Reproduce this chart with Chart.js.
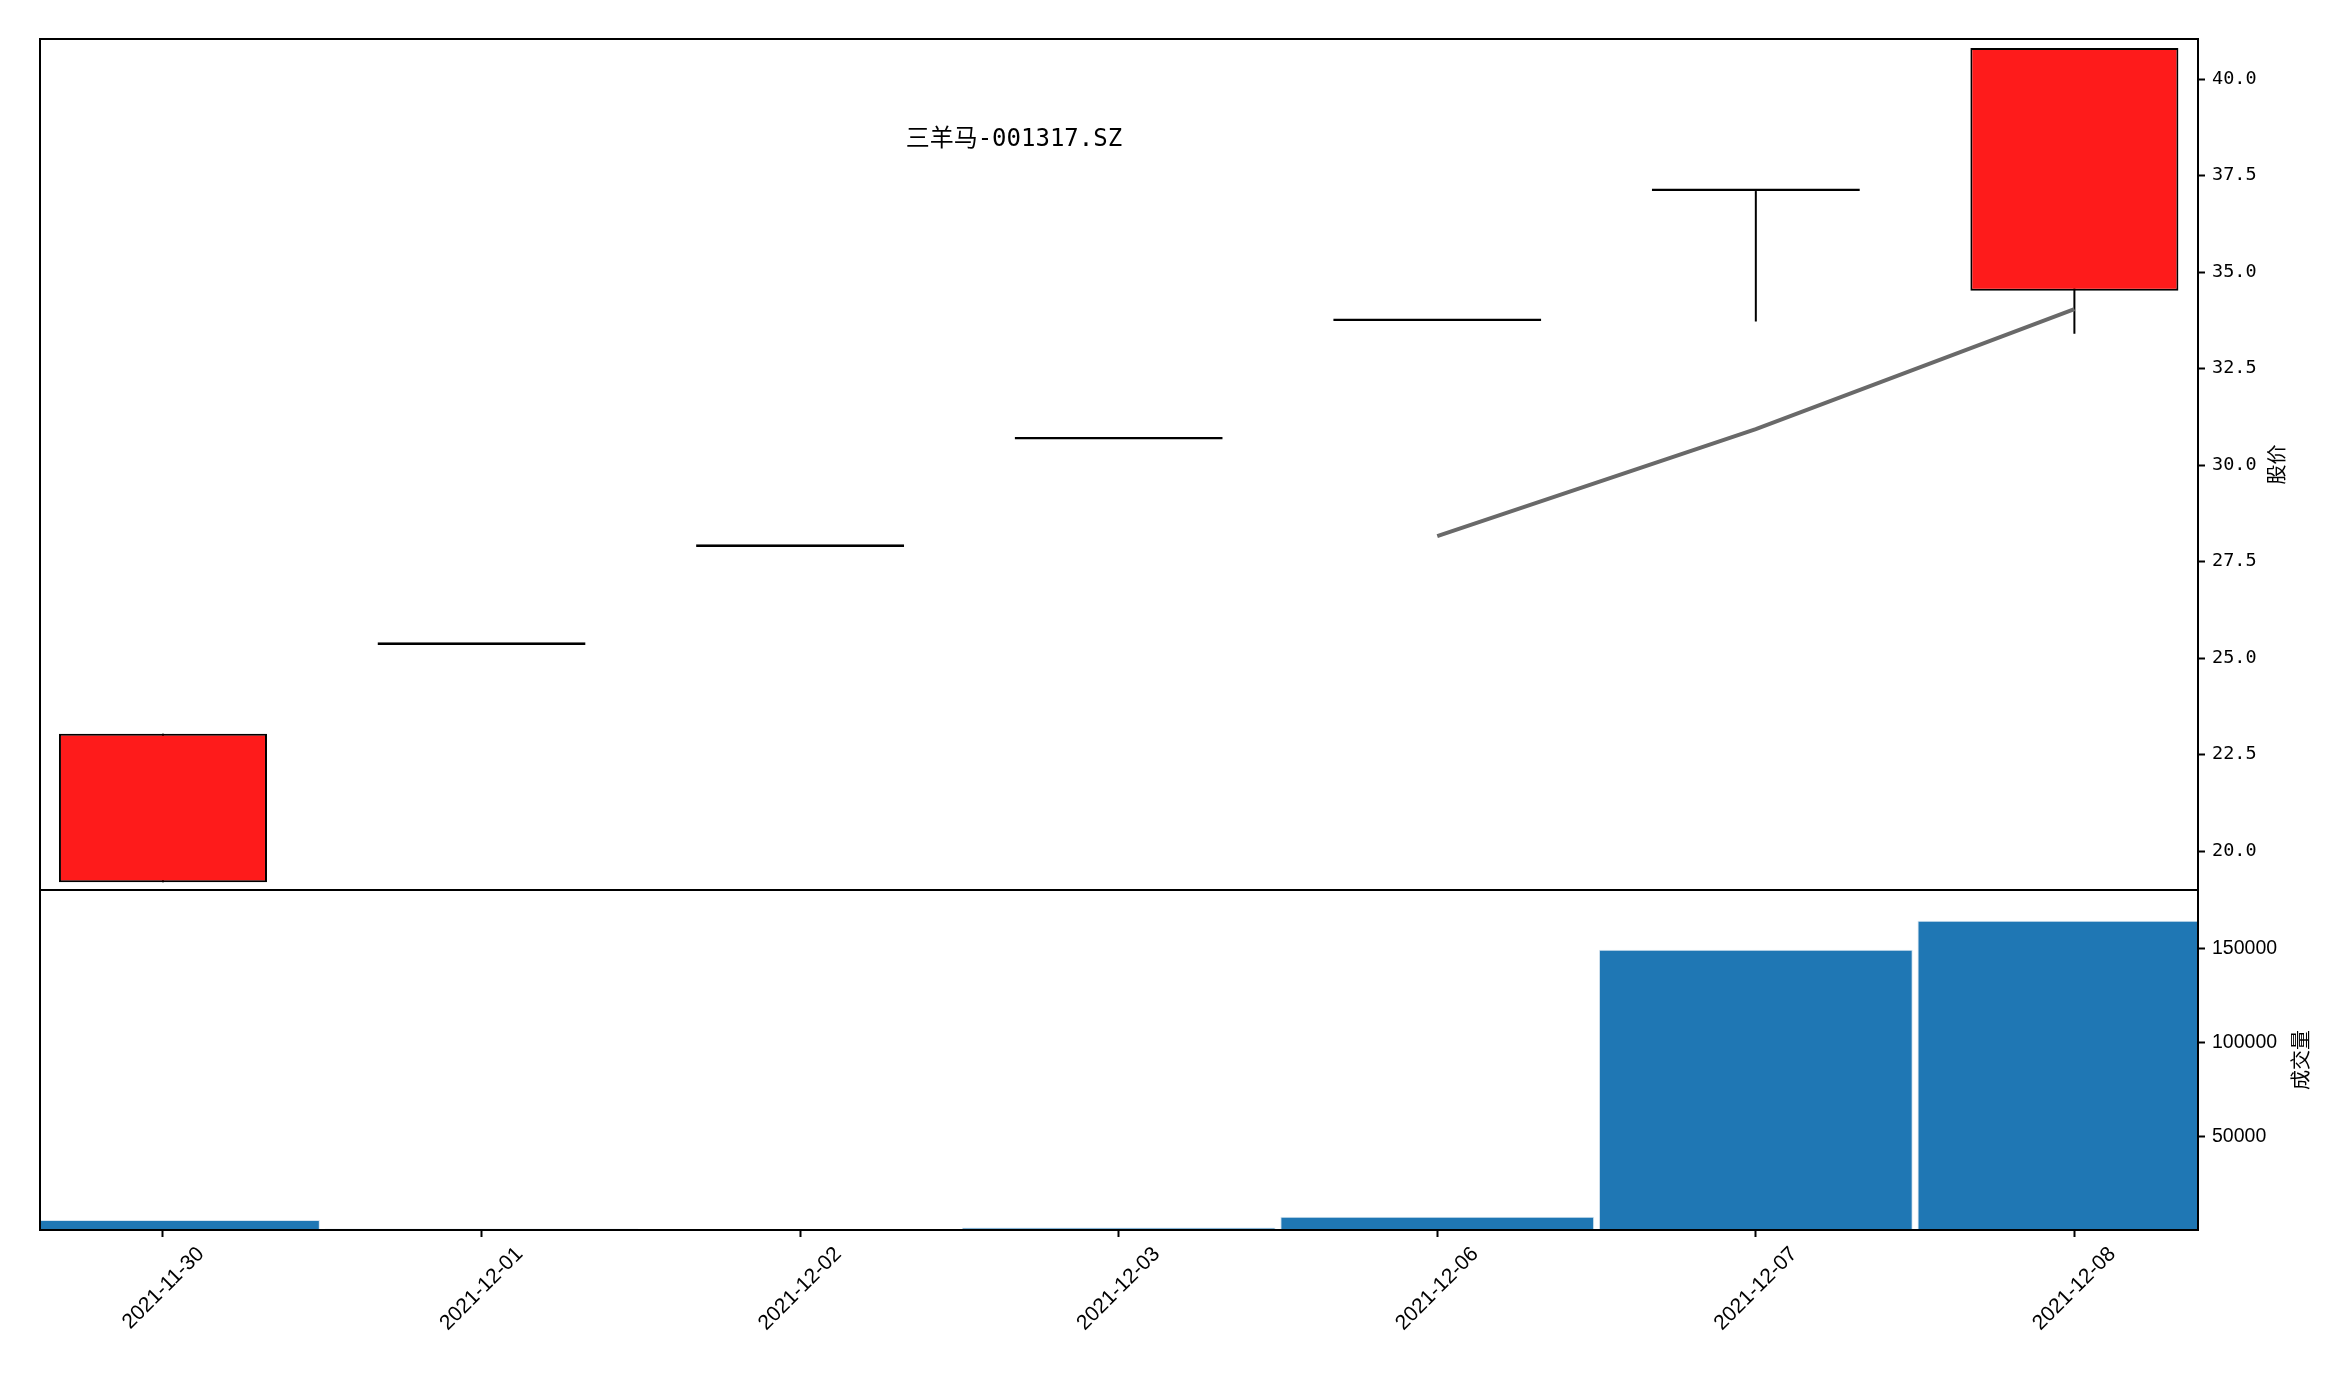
<!DOCTYPE html>
<html>
<head>
<meta charset="utf-8">
<script src="https://cdn.jsdelivr.net/npm/chart.js@4.4.1/dist/chart.umd.min.js"></script>
<style>
  html, body { margin: 0; padding: 0; background: #fff; }
  #wrap { width: 2347px; height: 1377px; }
</style>
</head>
<body>
<div id="wrap"><canvas id="kline"></canvas></div>
<script>
// Data
const dates = ['2021-11-30', '2021-12-01', '2021-12-02', '2021-12-03', '2021-12-06', '2021-12-07', '2021-12-08'];
const opens = [19.19, 25.34, 27.88, 30.66, 33.73, 37.10, 34.52];
const closes = [23.04, 25.34, 27.88, 30.66, 33.73, 37.10, 40.81];
const highs = [23.04, 25.34, 27.88, 30.66, 33.73, 37.10, 40.81];
const lows = [19.19, 25.34, 27.88, 30.66, 33.73, 33.72, 33.40];
const ma5 = [null, null, null, null, 28.16, 30.93, 34.04];
const volumes = [5600, 1100, 250, 1600, 7400, 149600, 165100];
const priceTicks = [20.0, 22.5, 25.0, 27.5, 30.0, 32.5, 35.0, 37.5, 40.0];
const volumeTicks = [50000, 100000, 150000];
const title = '三羊马-001317.SZ';
const priceLabel = '股价';
const volumeLabel = '成交量';

const upColor = '#fe1b1b';
const volColor = '#1f77b4';

// draws panel frames, title and the right-side axis labels
const framePlugin = {
    id: 'frames',
    afterDraw(chart) {
        const ctx = chart.ctx;
        const area = chart.chartArea;
        const sy = chart.scales.y;
        const sv = chart.scales.yv;
        ctx.save();
        ctx.strokeStyle = '#000';
        ctx.lineWidth = 2;
        [sy, sv].forEach(s => {
            ctx.strokeRect(area.left, s.top, area.right - area.left, s.bottom - s.top);
        });

        ctx.fillStyle = '#000';
        ctx.font = '24px "DejaVu Sans Mono", "Noto Sans CJK SC", monospace';
        ctx.textAlign = 'center';
        ctx.textBaseline = 'middle';
        ctx.fillText(title, area.left + (area.right - area.left) * 0.4513, area.top + 101);

        ctx.font = '20px "Noto Sans CJK SC", sans-serif';
        ctx.save();
        ctx.translate(sy.left + 78, (sy.top + sy.bottom) / 2);
        ctx.rotate(-Math.PI / 2);
        ctx.fillText(priceLabel, 0, 0);
        ctx.restore();
        ctx.save();
        ctx.translate(sv.left + 102, (sv.top + sv.bottom) / 2);
        ctx.rotate(-Math.PI / 2);
        ctx.fillText(volumeLabel, 0, 0);
        ctx.restore();
        ctx.restore();
    }
};

const data = {
    datasets: [
        {
            type: 'line',
            label: 'MA5',
            data: dates.map((d, i) => ({ x: i, y: ma5[i] })),
            yAxisID: 'y',
            borderColor: '#696969',
            borderWidth: 4,
            pointRadius: 0,
            tension: 0,
            order: 0
        },
        {
            label: 'body',
            data: dates.map((d, i) => ({ x: i, y: [opens[i], closes[i]] })),
            yAxisID: 'y',
            backgroundColor: dates.map((d, i) => opens[i] === closes[i] ? '#000' : upColor),
            borderColor: '#000',
            borderWidth: 2,
            borderSkipped: false,
            inflateAmount: 0,
            minBarLength: 2.6,
            grouped: false,
            categoryPercentage: 1,
            barPercentage: 0.653,
            order: 1
        },
        {
            label: 'wick',
            data: dates.map((d, i) => ({ x: i, y: [lows[i], highs[i]] })),
            yAxisID: 'y',
            backgroundColor: '#000',
            borderWidth: 0,
            inflateAmount: 0,
            grouped: false,
            barThickness: 2,
            order: 2
        },
        {
            label: 'volume',
            data: dates.map((d, i) => ({ x: i, y: volumes[i] })),
            yAxisID: 'yv',
            backgroundColor: volColor,
            borderColor: '#d6e4ef',
            borderWidth: 1,
            borderSkipped: 'bottom',
            grouped: false,
            categoryPercentage: 1,
            barPercentage: 0.985,
            order: 3
        }
    ]
};

const volFont = { family: '"Liberation Sans", Arial, sans-serif', size: 19.5 };
const dateFont = { family: '"Liberation Sans", Arial, sans-serif', size: 21 };

const config = {
    type: 'bar',
    data: data,
    options: {
        responsive: true,
        maintainAspectRatio: false,
        devicePixelRatio: 1,
        animation: false,
        events: [],
        layout: { padding: { top: 39, left: 40, right: 0, bottom: 0 } },
        plugins: {
            legend: { display: false },
            tooltip: { enabled: false }
        },
        scales: {
            x: {
                type: 'linear',
                position: 'bottom',
                min: -0.386,
                max: 6.388,
                offset: false,
                afterBuildTicks: (s) => { s.ticks = dates.map((d, i) => ({ value: i })); },
                afterFit: (s) => { s.height = 147; },
                border: { display: false },
                grid: { offset: false, drawOnChartArea: false, drawTicks: true, tickLength: 7, tickColor: '#000', tickWidth: 2 },
                ticks: {
                    autoSkip: false,
                    minRotation: 45,
                    maxRotation: 45,
                    padding: 5,
                    labelOffset: 38,
                    color: '#000',
                    font: dateFont,
                    callback: (v) => dates[v]
                }
            },
            y: {
                type: 'linear',
                position: 'right',
                stack: 'panels',
                stackWeight: 851,
                min: 18.99,
                max: 41.04,
                afterBuildTicks: (s) => { s.ticks = priceTicks.map(v => ({ value: v })); },
                afterFit: (s) => { s.width = 149; },
                border: { display: false },
                grid: { drawOnChartArea: false, drawTicks: true, tickLength: 7, tickColor: '#000', tickWidth: 2 },
                ticks: {
                    padding: 7,
                    color: '#000',
                    font: { family: '"DejaVu Sans Mono", monospace', size: 18.5 },
                    callback: (v) => Number(v).toFixed(1)
                }
            },
            yv: {
                type: 'linear',
                position: 'right',
                stack: 'panels',
                stackWeight: 340,
                min: 300,
                max: 181430,
                afterBuildTicks: (s) => { s.ticks = volumeTicks.map(v => ({ value: v })); },
                afterFit: (s) => { s.width = 149; },
                border: { display: false },
                grid: { drawOnChartArea: false, drawTicks: true, tickLength: 7, tickColor: '#000', tickWidth: 2 },
                ticks: {
                    padding: 7,
                    color: '#000',
                    font: volFont,
                    callback: (v) => String(v)
                }
            }
        }
    },
    plugins: [framePlugin]
};

const chart = new Chart(document.getElementById('kline').getContext('2d'), config);
</script>
</body>
</html>
